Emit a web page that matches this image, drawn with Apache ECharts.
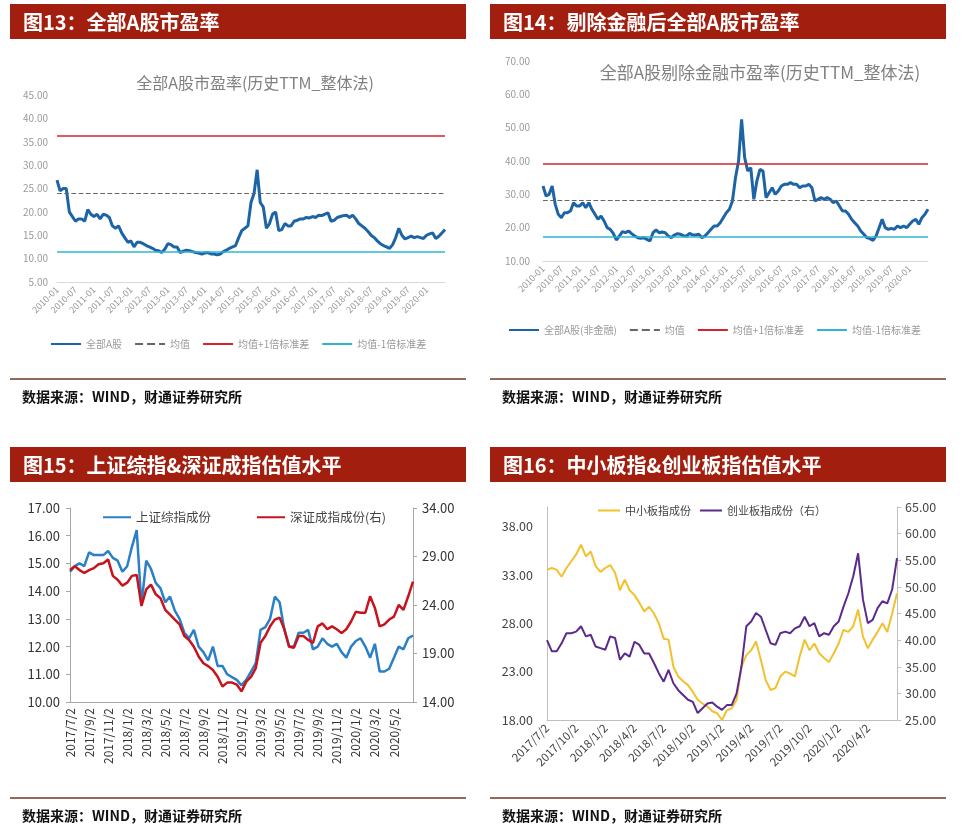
<!DOCTYPE html>
<html>
<head>
<meta charset="utf-8">
<script src="https://cdn.jsdelivr.net/npm/echarts@6/dist/echarts.min.js"></script>
<style>
html,body{margin:0;padding:0;background:#fff;}
#main{width:970px;height:834px;}
</style>
</head>
<body>
<div id="main"></div>
<script>
// ---------- DATA ----------
// Fig 13: all A-share PE (monthly 2010-01 .. 2020-07)
const pe1 = [26.8,24.5,25,25,20,19,18,18.5,18.5,18,
  20.5,19.5,19,19.5,18.5,19.5,19.3,18.8,17,16.5,
  17,15.5,14.5,13.5,13.8,12.5,13.5,13.5,13.2,12.8,
  12.5,12.2,11.8,11.7,11.3,12,13.2,13,12.5,12.5,
  11.3,11.6,11.8,11.7,11.5,11.3,11.2,11,11.2,11.3,
  11,11,10.8,11,11.5,11.8,12.2,12.5,12.8,14.5,
  16,16.5,17,22,24,29,22,21,16.5,17.5,
  19.5,20,16,16.2,17.5,17,17,18,18.2,18.5,
  18.5,18.8,18.7,19,18.8,19.3,19.2,19.5,19.8,18,
  18.2,18.8,19,19.2,19.3,18.8,19.3,18.5,17.5,17,
  16.5,15.8,15,14.5,13.8,13.2,12.8,12.5,12.2,13,
  14.5,16.5,15,14.2,14.5,14.8,14.5,14.7,14.5,14.3,
  15,15.3,15.5,14.3,14.8,15.5,16.2];
const pe1Bands = [23.9, 36.3, 11.4]; // mean, +1sd, -1sd

// Fig 14: all A-share ex-financials PE
const pe2 = [32.5,29.5,30,32.5,27,24,23,24.5,24.5,25,
  27.5,26.5,26.5,27.5,26,27.5,25.5,24,22.5,23.5,
  22,20,19.5,18.3,16.3,17.5,18.8,18.5,19,18.2,
  17.5,17,16.8,17,16.5,16,18.5,19.3,18.5,18.7,
  18.5,17.5,17,17.8,18.2,18,17.6,17.5,18.3,17.8,
  17.8,18,17,17.5,18.5,19.5,20.5,20.5,21.5,23,
  24.5,25.5,28,35,40,52.5,41,37,38,28.5,
  34,37.5,37,29,30.5,32,30,31,32.5,33,
  33,33.5,33,33,32,32.5,32.5,33,32,28,
  28.5,29,28.5,29,28.5,27.5,28,26.5,25,25,
  24,22.5,21.5,20.5,19,18,17,16.7,16.2,17.5,
  20,22.5,20,19.5,19.8,19.5,20.5,20,20.5,20,
  21,22,22.5,21,23,24,25.5];
const pe2Bands = [28.3, 39.2, 17.4];

// Fig 15: SSE composite constituents (left) & SZSE component constituents (right), half-monthly from 2017/7/2
const sse = [14.7,14.9,15.0,14.9,15.4,15.3,15.3,15.3,15.45,15.2,
  15.1,14.7,14.9,15.6,16.2,13.5,15.1,14.8,14.3,14.1,
  13.6,13.8,13.3,13.0,12.5,12.3,12.6,12.0,11.8,11.5,
  12.0,11.3,11.3,11.0,10.9,10.8,10.6,10.8,11.1,11.4,
  12.6,12.7,13.0,13.8,13.6,12.6,12.0,12.0,12.5,12.5,
  12.6,11.9,12.0,12.3,12.1,12.0,12.1,11.8,11.6,12.0,
  12.2,12.3,12.0,11.6,12.1,11.1,11.1,11.2,11.6,12.0,
  11.9,12.3,12.4];
const szse = [27.6,28.0,27.6,27.3,27.6,27.8,28.2,28.3,28.7,27.0,
  26.6,26.0,26.3,27.0,27.1,23.9,25.6,26.1,25.1,24.7,
  23.5,23.0,22.5,22.0,20.8,20.4,19.7,18.7,18.0,17.7,
  17.3,16.6,15.6,16.0,16.0,15.8,15.1,16.1,16.6,17.5,
  20.1,20.8,21.8,22.5,22.7,21.5,19.7,19.6,20.8,20.8,
  20.4,20.1,21.8,22.1,21.5,21.8,21.5,21.1,21.5,22.3,
  23.3,23.2,23.2,24.9,23.7,21.8,22.0,22.5,22.8,24.0,
  23.5,24.9,26.4];

// Fig 16: SME board (left) & ChiNext (right)
const sme = [33.5,33.7,33.5,32.8,33.7,34.4,35.1,36.1,34.9,35.4,
  33.9,33.3,33.7,34.0,33.2,31.4,32.5,31.4,30.9,30.1,
  29.2,29.7,29.0,28.0,26.4,26.3,23.5,22.5,22.0,21.6,
  20.9,20.1,19.7,19.4,18.9,18.7,18.0,19.0,19.2,20.1,
  23.5,24.7,25.2,26.1,24.2,22.1,21.1,21.3,22.5,23.0,
  22.8,22.5,24.6,26.3,25.2,25.9,24.9,24.4,24.0,24.9,
  25.9,27.3,27.1,27.7,29.4,26.6,25.4,26.3,27.1,28.0,
  27.1,29.0,31.1];
const chinext = [40.0,37.9,37.9,39.4,41.3,41.3,41.6,42.6,40.7,41.0,
  38.8,38.5,38.2,40.7,40.4,36.3,37.5,36.9,39.7,39.1,
  37.5,37.5,35.7,33.8,32.2,34.4,31.9,30.6,29.7,28.8,
  28.4,26.3,27.2,28.1,28.3,27.5,26.9,27.8,27.8,30.0,
  35.0,42.6,43.5,45.1,44.4,41.9,39.4,39.1,41.3,41.6,
  41.3,42.2,42.6,44.4,42.6,43.2,40.7,41.3,41.0,42.6,
  43.5,46.3,48.8,52.0,56.3,47.6,43.2,43.8,46.0,47.3,
  46.9,49.5,55.4];

// categories
const months = [];
for (let y = 2010; y <= 2020; y++) {
  for (let m = 1; m <= 12; m++) {
    if (y === 2020 && m > 7) break;
    months.push(y + '-' + (m < 10 ? '0' + m : m));
  }
}
const halfMonths = [];
for (let i = 0; i < 73; i++) {
  const k = 6 + Math.floor(i / 2); // months since 2017-01 (0-based)
  const y = 2017 + Math.floor(k / 12);
  const mo = (k % 12) + 1;
  halfMonths.push(y + '/' + mo + '/' + (i % 2 === 0 ? 2 : 17));
}

const headers = ['图13：全部A股市盈率', '图14：剔除金融后全部A股市盈率', '图15：上证综指&深证成指估值水平', '图16：中小板指&创业板指估值水平'];
const subtitles = ['全部A股市盈率(历史TTM_整体法)', '全部A股剔除金融市盈率(历史TTM_整体法)'];
const sourceText = '数据来源：WIND，财通证券研究所';
const bandNames = ['均值', '均值+1倍标准差', '均值-1倍标准差'];

// ---------- STYLE ----------
const FONT = '"Noto Sans CJK SC", "Noto Sans", sans-serif';
const HEADER_RED = '#a21f10';
const bandStyles = [
  {color: '#666666', type: 'dashed', width: 1.2},
  {color: '#d4232d', type: 'solid', width: 1.6},
  {color: '#2fb4d2', type: 'solid', width: 1.6}
];

function bandSeries(names, values, xi, yi) {
  return names.map((n, k) => ({
    name: n, type: 'line', xAxisIndex: xi, yAxisIndex: yi, data: [],
    symbol: 'none', lineStyle: bandStyles[k], itemStyle: {color: bandStyles[k].color},
    markLine: {
      silent: true, symbol: ['none', 'none'], label: {show: false}, animation: false,
      lineStyle: bandStyles[k], data: [{yAxis: values[k]}]
    }
  }));
}

const topX = (gi) => ({
  type: 'category', gridIndex: gi, data: months, boundaryGap: false,
  axisLine: {lineStyle: {color: '#d9d9d9'}}, axisTick: {show: false},
  axisLabel: {rotate: 45, fontSize: 9, color: '#9a9a9a', fontFamily: FONT, margin: 6,
    interval: (i) => i % 6 === 0 && i < 126}
});
const topY = (gi, min, max, iv, margin) => ({
  type: 'value', gridIndex: gi, min: min, max: max, interval: iv,
  splitLine: {show: false}, axisLine: {show: false}, axisTick: {show: false},
  axisLabel: {fontSize: 10, color: '#9a9a9a', fontFamily: FONT, margin: margin,
    formatter: (v) => v.toFixed(2)}
});

const headerGraphics = [];
const headerPos = [[10, 4], [490, 4], [10, 447], [490, 447]];
headerPos.forEach((p, i) => {
  headerGraphics.push({type: 'rect', shape: {x: p[0], y: p[1], width: 456, height: 35}, style: {fill: HEADER_RED}, silent: true});
  headerGraphics.push({type: 'text', x: p[0] + 13, y: p[1] + 18, style: {text: headers[i], fill: '#ffffff', font: 'bold 20px ' + FONT, textVerticalAlign: 'middle'}, silent: true});
});
const sepPos = [[10, 379], [490, 379], [10, 798], [490, 798]];
sepPos.forEach((p) => {
  headerGraphics.push({type: 'line', shape: {x1: p[0], y1: p[1], x2: p[0] + 456, y2: p[1]}, style: {stroke: '#6b3a22', lineWidth: 1.5}, silent: true});
  headerGraphics.push({type: 'text', x: p[0] + 12, y: p[1] + 18, style: {text: sourceText, fill: '#111', font: 'bold 14px ' + FONT, textVerticalAlign: 'middle'}, silent: true});
});
headerGraphics.push({type: 'text', x: 255, y: 83, style: {text: subtitles[0], fill: '#808080', font: '16px ' + FONT, textAlign: 'center', textVerticalAlign: 'middle'}, silent: true});
headerGraphics.push({type: 'text', x: 760, y: 73, style: {text: subtitles[1], fill: '#808080', font: '17px ' + FONT, textAlign: 'center', textVerticalAlign: 'middle'}, silent: true});

const legendBase = {itemHeight: 10, padding: 0, itemStyle: {opacity: 0}};

const chart = echarts.init(document.getElementById('main'), null, {renderer: 'canvas'});
chart.setOption({
  animation: false,
  backgroundColor: '#ffffff',
  textStyle: {fontFamily: FONT},
  graphic: headerGraphics,
  grid: [
    {left: 57, top: 95, width: 388, height: 187},
    {left: 543, top: 61, width: 385, height: 200},
    {left: 70, top: 508, width: 343, height: 194},
    {left: 547, top: 507, width: 350, height: 213}
  ],
  legend: [
    Object.assign({left: 50, top: 339, itemWidth: 30, itemGap: 12,
      textStyle: {fontSize: 10, color: '#9a9a9a'},
      data: ['全部A股'].concat(bandNames)}, legendBase),
    Object.assign({left: 508, top: 325, itemWidth: 30, itemGap: 12,
      textStyle: {fontSize: 10, color: '#9a9a9a'},
      data: ['全部A股(非金融)'].concat(bandNames)}, legendBase),
    Object.assign({left: 102, top: 511, itemWidth: 28, itemGap: 45,
      textStyle: {fontSize: 12.5, color: '#444'},
      data: ['上证综指成份', '深证成指成份(右)']}, legendBase),
    Object.assign({left: 597, top: 505, itemWidth: 22, itemGap: 8,
      textStyle: {fontSize: 11, color: '#444'},
      data: ['中小板指成份', '创业板指成份（右）']}, legendBase)
  ],
  xAxis: [
    topX(0), topX(1),
    {type: 'category', gridIndex: 2, data: halfMonths, boundaryGap: false,
      axisLine: {lineStyle: {color: '#a6a6a6'}}, axisTick: {show: false},
      axisLabel: {rotate: 90, fontSize: 12, color: '#333', margin: 6,
        interval: (i) => i % 4 === 0 && i < 72}},
    {type: 'category', gridIndex: 3, data: halfMonths, boundaryGap: false,
      axisLine: {lineStyle: {color: '#bfbfbf'}}, axisTick: {show: false},
      axisLabel: {rotate: 45, fontSize: 11.5, color: '#444', margin: 6,
        interval: (i) => i % 6 === 0 && i < 72}}
  ],
  yAxis: [
    topY(0, 5, 45, 5, 9),
    topY(1, 10, 70, 10, 13),
    {type: 'value', gridIndex: 2, min: 10, max: 17, interval: 1, splitLine: {show: false},
      axisLine: {show: true, lineStyle: {color: '#a6a6a6'}}, axisTick: {show: true, length: 4, lineStyle: {color: '#a6a6a6'}},
      axisLabel: {fontSize: 13, color: '#333', margin: 10, formatter: (v) => v.toFixed(2)}},
    {type: 'value', gridIndex: 2, position: 'right', min: 14, max: 34, interval: 5, splitLine: {show: false},
      axisLine: {show: true, lineStyle: {color: '#a6a6a6'}}, axisTick: {show: true, length: 4, lineStyle: {color: '#a6a6a6'}},
      axisLabel: {fontSize: 13, color: '#333', margin: 9, formatter: (v) => v.toFixed(2)}},
    {type: 'value', gridIndex: 3, min: 18, max: 40, interval: 5, splitLine: {show: false},
      axisLine: {show: true, lineStyle: {color: '#bfbfbf'}}, axisTick: {show: false},
      axisLabel: {fontSize: 12.5, color: '#444', margin: 14, showMaxLabel: false, formatter: (v) => v.toFixed(2)}},
    {type: 'value', gridIndex: 3, position: 'right', min: 25, max: 65, interval: 5, splitLine: {show: false},
      axisLine: {show: true, lineStyle: {color: '#bfbfbf'}}, axisTick: {show: true, length: 4, lineStyle: {color: '#bfbfbf'}},
      axisLabel: {fontSize: 12.5, color: '#444', margin: 8, formatter: (v) => v.toFixed(2)}}
  ],
  series: [
    {name: '全部A股', type: 'line', xAxisIndex: 0, yAxisIndex: 0, data: pe1, symbol: 'none',
      lineStyle: {color: '#1d64a6', width: 3}, itemStyle: {color: '#1d64a6'}, z: 3},
    ...bandSeries(bandNames, pe1Bands, 0, 0),
    {name: '全部A股(非金融)', type: 'line', xAxisIndex: 1, yAxisIndex: 1, data: pe2, symbol: 'none',
      lineStyle: {color: '#1d64a6', width: 3}, itemStyle: {color: '#1d64a6'}, z: 3},
    ...bandSeries(bandNames, pe2Bands, 1, 1),
    {name: '上证综指成份', type: 'line', xAxisIndex: 2, yAxisIndex: 2, data: sse, symbol: 'none',
      lineStyle: {color: '#2a7fc6', width: 2.5}, itemStyle: {color: '#2a7fc6'}},
    {name: '深证成指成份(右)', type: 'line', xAxisIndex: 2, yAxisIndex: 3, data: szse, symbol: 'none',
      lineStyle: {color: '#c8121c', width: 2.5}, itemStyle: {color: '#c8121c'}},
    {name: '中小板指成份', type: 'line', xAxisIndex: 3, yAxisIndex: 4, data: sme, symbol: 'none',
      lineStyle: {color: '#f2c12e', width: 2}, itemStyle: {color: '#f2c12e'}},
    {name: '创业板指成份（右）', type: 'line', xAxisIndex: 3, yAxisIndex: 5, data: chinext, symbol: 'none',
      lineStyle: {color: '#5b2a8c', width: 2}, itemStyle: {color: '#5b2a8c'}}
  ]
});
</script>
</body>
</html>
